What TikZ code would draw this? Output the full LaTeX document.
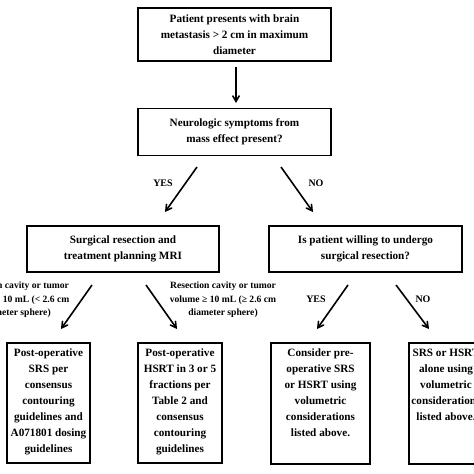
\documentclass[tikz,border=0pt]{standalone}
\usepackage{fontspec}
\setmainfont{Liberation Serif}
\usepackage{tikz}
\usetikzlibrary{arrows,positioning,calc}

\begin{document}
\begin{tikzpicture}[->, >=angle 60, x=1pt, y=-1pt, line width=1.6pt, font=\bfseries\fontsize{11.2}{16}\selectfont]
\tikzstyle{box}=[draw=black, line width=1.6pt, align=center, inner sep=0pt, -]
\tikzstyle{cond}=[align=center, font=\bfseries\fontsize{9.6}{13.5}\selectfont]
\tikzstyle{ans}=[font=\bfseries\fontsize{10}{12}\selectfont]
\useasboundingbox (0,0) rectangle (474,474);
\clip (0,0) rectangle (474,474);
% top of the chart
\node[box, minimum width=193pt, minimum height=53pt] (meta)  at (234.5,34.5) {Patient presents with brain\\ metastasis > 2 cm in maximum\\ diameter};
\node[box, minimum width=193pt, minimum height=47pt] (neuro) at (234.5,132)  {Neurologic symptoms from\\ mass effect present?};
% second row
\node[box, minimum width=192pt, minimum height=46pt] (surg)  at (123,249)   {Surgical resection and\\ treatment planning MRI};
\node[box, minimum width=193pt, minimum height=46pt] (will)  at (365.5,249) {Is patient willing to undergo\\ surgical resection?};
% bottom boxes
\node[box, minimum width=83pt, minimum height=120pt]  (srs)   at (48.5,403)  {\parbox[t][108pt][t]{80pt}{\centering Post-operative\\ SRS per\\ consensus\\ contouring\\ guidelines and\\ A071801 dosing\\ guidelines}};
\node[box, minimum width=84pt, minimum height=120pt]  (hsrt)  at (180,403)   {\parbox[t][108pt][t]{80pt}{\centering Post-operative\\ HSRT in 3 or 5\\ fractions per\\ Table 2 and\\ consensus\\ contouring\\ guidelines}};
\node[box, minimum width=99pt, minimum height=121pt]  (preop) at (320.5,403.5) {\parbox[t][109pt][t]{95pt}{\centering Consider pre-\\ operative SRS\\ or HSRT using\\ volumetric\\ considerations\\ listed above.}};
\node[box, minimum width=74pt, minimum height=121pt]  (alone) at (446,403.5) {\parbox[t][109pt][t]{72pt}{\centering SRS or HSRT\\ alone using\\ volumetric\\ considerations\\ listed above.}};

% arrow ends
\coordinate (a1) at (236,67);  \coordinate (a2) at (236,103);
\coordinate (y1) at (197,167); \coordinate (y2) at (165,212);
\coordinate (n1) at (281,167); \coordinate (n2) at (313,212);
\coordinate (s1) at (92,285);  \coordinate (s2) at (61,329);
\coordinate (h1) at (146,285); \coordinate (h2) at (177,329);
\coordinate (p1) at (348,285); \coordinate (p2) at (317,329);
\coordinate (q1) at (396,285); \coordinate (q2) at (429,329);
\draw (a1) -- (a2);
\draw (y1) -- (y2);
\draw (n1) -- (n2);
\draw (s1) -- (s2);
\draw (h1) -- (h2);
\draw (p1) -- (p2);
\draw (q1) -- (q2);

% labels
\node[ans] (yes1) at (163,183) {YES};
\node[ans] (no1)  at (316,183) {NO};
\node[ans] (yes2) at (316,299) {YES};
\node[ans] (no2)  at (423,299) {NO};
\node[cond] (small) at (16,300)  {Resection cavity or tumor\\ volume < 10 mL (< 2.6 cm\\ diameter sphere)};
\node[cond] (large) at (223,300) {Resection cavity or tumor\\ volume ≥ 10 mL (≥ 2.6 cm\\ diameter sphere)};
\end{tikzpicture}
\end{document}
